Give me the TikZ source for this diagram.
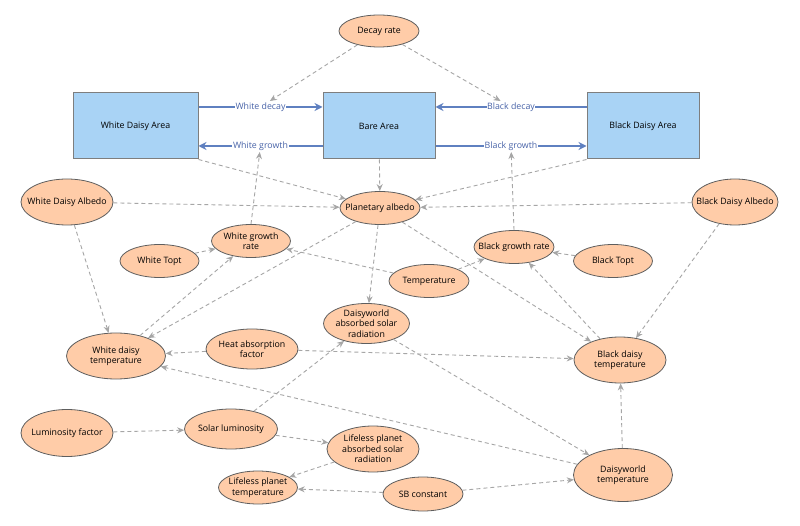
\documentclass[tikz,border=0pt]{standalone}
\usepackage{fontspec}
\setmainfont{Open Sans}
\usetikzlibrary{shapes.geometric,arrows.meta}
\definecolor{peach}{HTML}{FFCCA8}
\definecolor{areablue}{HTML}{A9D3F5}
\definecolor{edgegray}{HTML}{5E5E5E}
\definecolor{flowblue}{HTML}{5F80C0}
\definecolor{lblblue}{HTML}{4863A8}
\definecolor{depgray}{HTML}{A6A6A6}
\tikzset{
  elp/.style={ellipse, draw=edgegray, fill=peach, line width=0.8pt,
    inner xsep=-12pt, inner ysep=-3pt,
    align=center, font=\fontsize{8.8}{10.4}\selectfont},
  area/.style={rectangle, draw=edgegray!80, fill=areablue, line width=1pt, inner sep=0pt,
    font=\fontsize{8.8}{10.4}\selectfont},
  flow/.style={draw=flowblue, line width=2pt, -{Stealth[length=8pt,width=8pt]}},
  lbl/.style={fill=white, inner sep=0.6pt, text=lblblue, font=\fontsize{8.8}{10.4}\selectfont},
  dep/.style={draw=depgray, dashed, dash pattern=on 4pt off 3pt, line width=0.9pt,
    -{Stealth[length=7pt,width=6pt]}},
}
\begin{document}
\begin{tikzpicture}[x=1pt,y=-1pt]
\useasboundingbox[fill=white] (0,0) rectangle (800,526);

% areas
\node[area, minimum width=125pt, minimum height=66pt] (wda) at (135.5,126) {White Daisy Area};
\node[area, minimum width=112pt, minimum height=66pt] (bare) at (379,126) {Bare Area};
\node[area, minimum width=112pt, minimum height=66pt] (bda) at (643,126) {Black Daisy Area};

% ellipses
\node[elp, minimum width=80pt, minimum height=32pt] (decay) at (379,31) {Decay rate};
\node[elp, minimum width=92pt, minimum height=46pt] (wdalb) at (67,202) {White Daisy Albedo};
\node[elp, minimum width=80pt, minimum height=33pt] (palb) at (380,208) {Planetary albedo};
\node[elp, minimum width=86pt, minimum height=46pt] (bdalb) at (735,202) {Black Daisy Albedo};
\node[elp, minimum width=79pt, minimum height=33pt] (wgr) at (251,241) {White growth\\rate};
\node[elp, minimum width=79pt, minimum height=33pt] (wtopt) at (159.5,261) {White Topt};
\node[elp, minimum width=80pt, minimum height=33pt] (bgr) at (514,247) {Black growth rate};
\node[elp, minimum width=79pt, minimum height=33pt] (btopt) at (613,261) {Black Topt};
\node[elp, minimum width=80pt, minimum height=33pt] (temp) at (429,281) {Temperature};
\node[elp, minimum width=86pt, minimum height=40pt] (dasr) at (366.5,323.5) {Daisyworld\\absorbed solar\\radiation};
\node[elp, minimum width=99pt, minimum height=46pt] (wdt) at (116,356) {White daisy\\temperature};
\node[elp, minimum width=92pt, minimum height=40pt] (haf) at (252,349) {Heat absorption\\factor};
\node[elp, minimum width=92pt, minimum height=46pt] (bdt) at (620,360) {Black daisy\\temperature};
\node[elp, minimum width=92pt, minimum height=47pt] (lumf) at (67,433) {Luminosity factor};
\node[elp, minimum width=93pt, minimum height=40pt] (sol) at (231,429) {Solar luminosity};
\node[elp, minimum width=92pt, minimum height=46pt] (lpasr) at (373,449) {Lifeless planet\\absorbed solar\\radiation};
\node[elp, minimum width=79pt, minimum height=33pt] (lpt) at (258,487.5) {Lifeless planet\\temperature};
\node[elp, minimum width=80pt, minimum height=34pt] (sb) at (423,494) {SB constant};
\node[elp, minimum width=99pt, minimum height=53pt] (dwt) at (623,475) {Daisyworld\\temperature};

% flows
\draw[flow] ([yshift=19pt]wda.east) -- node[lbl] (wdec) {White decay} ([yshift=19pt]bare.west);
\draw[flow] ([yshift=-20pt]bare.west) -- node[lbl] (wgro) {White growth} ([yshift=-20pt]wda.east);
\draw[flow] ([yshift=19pt]bda.west) -- node[lbl] (bdec) {Black decay} ([yshift=19pt]bare.east);
\draw[flow] ([yshift=-20pt]bare.east) -- node[lbl] (bgro) {Black growth} ([yshift=-20pt]bda.west);

% dependencies
\draw[dep] (decay) -- (wdec);
\draw[dep] (decay) -- (bdec);
\draw[dep] (wgr.north) -- (wgro);
\draw[dep] (bgr.north) -- (bgro);
\draw[dep] (wda.south east) -- (palb);
\draw[dep] (bare) -- (palb);
\draw[dep] (bda.south west) -- (palb);
\draw[dep] (wdalb) -- (palb);
\draw[dep] (bdalb) -- (palb);
\draw[dep] (wdalb) -- (wdt);
\draw[dep] (palb) -- (wdt);
\draw[dep] (wdt) -- (wgr);
\draw[dep] (wtopt) -- (wgr);
\draw[dep] (temp) -- (wgr);
\draw[dep] (temp) -- (bgr);
\draw[dep] (btopt) -- (bgr);
\draw[dep] (bdt) -- (bgr);
\draw[dep] (palb) -- (bdt);
\draw[dep] (bdalb) -- (bdt);
\draw[dep] (palb) -- (dasr);
\draw[dep] (haf) -- (wdt);
\draw[dep] (haf) -- (bdt);
\draw[dep] (sol) -- (dasr);
\draw[dep] (dasr) -- (dwt);
\draw[dep] (dwt) -- (wdt);
\draw[dep] (dwt) -- (bdt);
\draw[dep] (lumf) -- (sol);
\draw[dep] (sol) -- (lpasr);
\draw[dep] (lpasr) -- (lpt);
\draw[dep] (sb) -- (lpt);
\draw[dep] (sb) -- (dwt);
\end{tikzpicture}
\end{document}
